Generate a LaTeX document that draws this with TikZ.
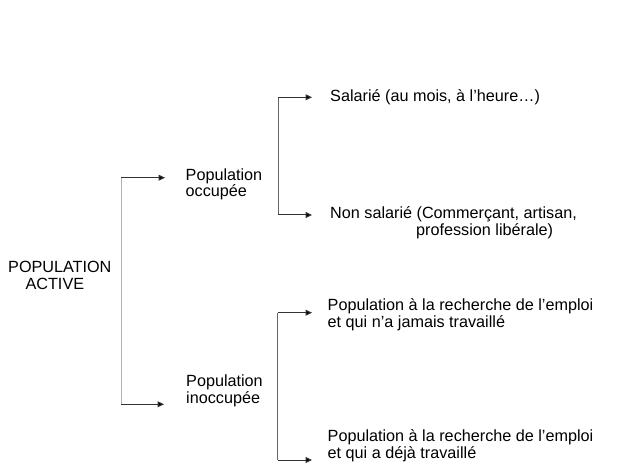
\documentclass[tikz,border=0pt]{standalone}
\usepackage{fontspec}
\setmainfont{Liberation Sans}
\usetikzlibrary{arrows.meta}
\begin{document}
\begin{tikzpicture}[x=1pt,y=-1pt,
  lbl/.style={anchor=base west,inner sep=0pt,align=left,
    font=\fontsize{16.2}{17}\selectfont},
  vline/.style={line width=1pt,draw=black!60},
  mainv/.style={line width=1pt,draw=black!30},
  arr/.style={line width=1pt,draw=black!80,
    -{Triangle[length=6.5pt,width=6pt,fill=black]}}]
\useasboundingbox[fill=white] (0,0) rectangle (640,473);
% text nodes (base anchor = baseline of the last line)
\node[lbl] (active) at (8,289.3) {POPULATION\\\hspace*{17.4pt}ACTIVE};
\node[lbl] (occ) at (185.5,197) {Population\\occupée};
\node[lbl] (inocc) at (186,403.3) {Population\\inoccupée};
\node[lbl] (sal) at (330,101.7) {Salarié (au mois, à l’heure…)};
\node[lbl] (nonsal) at (330,236) {Non salarié (Commerçant, artisan,\\\hspace*{86pt}profession libérale)};
\node[lbl] (rech1) at (327.5,327.7) {Population à la recherche de l’emploi\\et qui n’a jamais travaillé};
\node[lbl] (rech2) at (327.5,458.3) {Population à la recherche de l’emploi\\et qui a déjà travaillé};
% bracket coordinates
\coordinate (b1t) at (121,177.7);
\coordinate (b1b) at (121,404.3);
\coordinate (t-occ) at (165,177.7);
\coordinate (t-inocc) at (164,404.3);
\coordinate (b2t) at (278,97.3);
\coordinate (b2b) at (278,215);
\coordinate (t-sal) at (312,97.3);
\coordinate (t-nonsal) at (312,215);
\coordinate (b3t) at (277.5,312.7);
\coordinate (b3b) at (277.5,460);
\coordinate (t-rech1) at (312,312.7);
\coordinate (t-rech2) at (312,460);
% connectors
\draw[mainv] (b1t) -- (b1b);
\draw[arr] (b1t) -- (t-occ);
\draw[arr] (b1b) -- (t-inocc);
\draw[vline] (b2t) -- (b2b);
\draw[arr] (b2t) -- (t-sal);
\draw[arr] (b2b) -- (t-nonsal);
\draw[vline] (b3t) -- (b3b);
\draw[arr] (b3t) -- (t-rech1);
\draw[arr] (b3b) -- (t-rech2);
\end{tikzpicture}
\end{document}
